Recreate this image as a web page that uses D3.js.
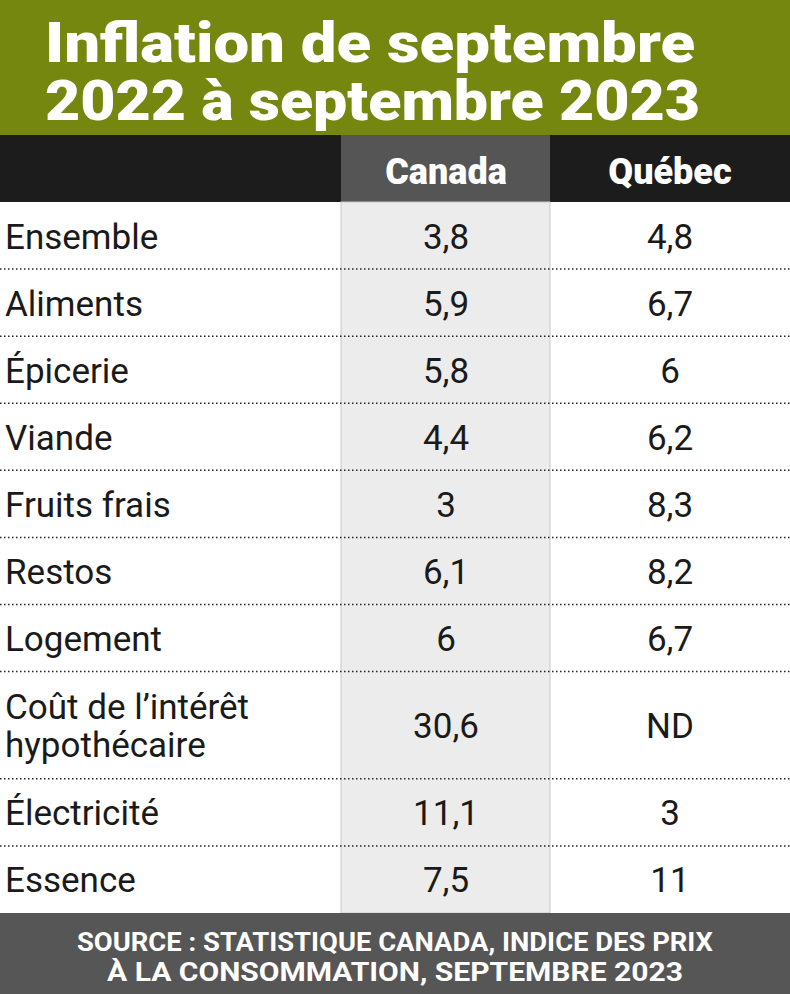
<!DOCTYPE html>
<html><head><meta charset="utf-8">
<script src="https://cdn.jsdelivr.net/npm/d3@7"></script>
<style>body{margin:0;background:#fff}</style></head>
<body><svg id="chart" width="790" height="994"></svg>
<script>
const categories = ["Ensemble","Aliments","Épicerie","Viande","Fruits frais","Restos","Logement",["Coût de l’intérêt","hypothécaire"],"Électricité","Essence"];
const canada = ["3,8","5,9","5,8","4,4","3","6,1","6","30,6","11,1","7,5"];
const quebec = ["4,8","6,7","6","6,2","8,3","8,2","6,7","ND","3","11"];
const columns = ["Canada","Québec"];
const rowUnits = [1,1,1,1,1,1,1,1.6,1,1];

const svg = d3.select("#chart");
const font = "Roboto, 'Open Sans', sans-serif";

// title band
svg.append("rect").attr("width",790).attr("height",135).attr("fill","#76870f");
[["Inflation de septembre",62,650],["2022 à septembre 2023",120,655]].forEach(([t,y,w]) => {
  svg.append("text").attr("x",45).attr("y",y).text(t)
    .attr("font-family",font).attr("font-weight",900).attr("font-size",56)
    .attr("fill","#fff").attr("textLength",w).attr("lengthAdjust","spacingAndGlyphs");
});

// header
svg.append("rect").attr("y",135).attr("width",790).attr("height",67).attr("fill","#1c1c1c");
svg.append("rect").attr("x",341).attr("y",135).attr("width",209).attr("height",67).attr("fill","#555555");
const colX = d3.scalePoint().domain(columns).range([446,670]);
svg.selectAll(".hdr").data(columns).join("text")
  .attr("x",d=>colX(d)).attr("y",184).attr("text-anchor","middle").text(d=>d)
  .attr("font-family",font).attr("font-weight",900).attr("font-size",36).attr("fill","#fff");

// rows
const tableTop = 202, tableBottom = 913;
const total = d3.sum(rowUnits);
const unit = (tableBottom-tableTop)/total;
const starts = []; let acc = tableTop;
rowUnits.forEach(u => { starts.push(acc); acc += u*unit; });

svg.append("rect").attr("x",341).attr("y",tableTop).attr("width",209).attr("height",tableBottom-tableTop)
  .attr("fill","#ececec").attr("stroke","#c8c8c8").attr("stroke-width",1);

categories.forEach((c,i) => {
  const y0 = starts[i], h = rowUnits[i]*unit, cy = y0 + h/2;
  if (i>0) svg.append("line").attr("x1",0).attr("x2",790).attr("y1",y0).attr("y2",y0)
    .attr("stroke","#222").attr("stroke-width",1.5).attr("stroke-dasharray","1.5,2.5");
  const lines = Array.isArray(c) ? c : [c];
  lines.forEach((l,j) => {
    svg.append("text").attr("x",5).attr("y",cy + 13 + (j-(lines.length-1)/2)*38).text(l)
      .attr("font-family",font).attr("font-size",35).attr("fill","#1a1a1a");
  });
  [canada[i],quebec[i]].forEach((v,k) => {
    svg.append("text").attr("x",colX(columns[k])).attr("y",cy+13).attr("text-anchor","middle").text(v)
      .attr("font-family",font).attr("font-size",35).attr("fill","#1a1a1a");
  });
});

// footer
svg.append("rect").attr("y",tableBottom).attr("width",790).attr("height",994-tableBottom).attr("fill","#565656");
[["SOURCE : STATISTIQUE CANADA, INDICE DES PRIX",951,636],["À LA CONSOMMATION, SEPTEMBRE 2023",981,576]].forEach(([t,y,w]) => {
  svg.append("text").attr("x",395).attr("y",y).attr("text-anchor","middle").text(t)
    .attr("font-family",font).attr("font-weight",700).attr("font-size",25).attr("fill","#fff")
    .attr("textLength",w).attr("lengthAdjust","spacingAndGlyphs");
});
</script></body></html>
